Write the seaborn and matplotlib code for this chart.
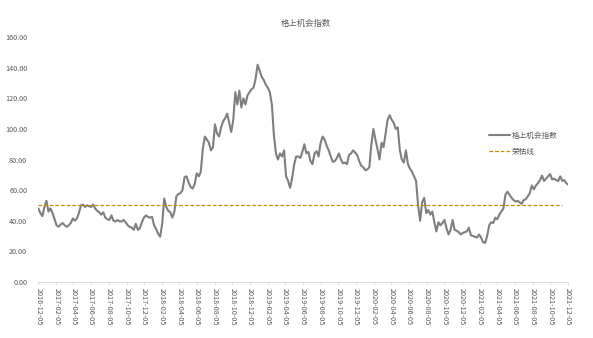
import numpy as np
import pandas as pd
import matplotlib
matplotlib.use("Agg")
import matplotlib.pyplot as plt
from matplotlib.ticker import FuncFormatter
import seaborn as sns

# Weekly index readings, starting 2016-12-05
start_date = "2016-12-05"
index_values = [
    48, 45, 43, 49, 53, 46, 48, 45, 41, 37,
    36, 37.5, 38.5, 37, 36, 37, 38.5, 41.5, 40, 41.5,
    45, 50, 50.5, 49, 50, 49.5, 49, 50.5, 48, 46.5,
    45.5, 44, 45.5, 42, 41, 40.5, 43.5, 40, 39.5, 40.5,
    39.5, 39.5, 40.5, 39, 37, 36, 35.5, 34, 38, 34,
    35, 39, 42, 43.5, 42.5, 42, 42.5, 37, 34.5, 31.5,
    29.5, 38, 54.5, 49, 46.5, 45.5, 42, 46, 56, 57.5,
    58, 60, 68.5, 69, 65, 62, 61, 64, 71, 69,
    72, 87, 95, 93, 91, 86, 88, 103, 97, 95,
    101, 105, 107, 110, 104, 98, 106, 124, 116, 125,
    114, 120, 116, 122, 124, 126, 127, 133, 142, 138,
    134, 132, 129, 127, 124, 116, 96, 84, 80, 84,
    82, 86, 69, 66, 61.5, 68, 77, 82, 82, 81,
    85, 90, 84, 85, 79, 77, 84, 85.5, 82, 91,
    95, 93, 89, 86, 82, 78.5, 79, 81, 84, 80,
    77.5, 78, 77, 83, 84, 86, 84.5, 83, 79, 76,
    75, 73, 73.5, 75, 90, 100, 93, 87, 80, 91,
    88, 97, 106, 109, 106, 104, 100, 101, 86, 80,
    78, 86, 77, 74, 72, 69, 66, 50, 40, 52,
    55, 45, 47, 44, 46, 39, 33, 39, 37, 38.5,
    40.5, 35, 31, 34, 40.5, 34, 33.5, 32.5, 31, 32,
    32.5, 33, 35.5, 30.5, 30, 29.5, 29, 31, 29, 26,
    25.5, 30, 37, 39, 38.5, 42, 41, 44, 46, 48,
    57, 59, 57, 55, 53.5, 52.5, 53, 52, 51, 53.5,
    54, 56, 58, 63, 60.5, 63, 64.5, 66.5, 69.5, 66,
    67.5, 69, 70.5, 67, 67.5, 66.5, 66, 69, 66, 66.5,
    64.5, 63.5,
]
boom_bust_level = 50
boom_bust_weeks = 259

series_name = "格上机会指数"
line_name = "荣枯线"
title_text = "格上机会指数"

dates = pd.date_range(start_date, periods=len(index_values), freq="7D")
df_index = pd.DataFrame({"date": dates, "value": index_values})
df_line = pd.DataFrame({"date": dates[:boom_bust_weeks],
                        "value": [boom_bust_level] * boom_bust_weeks})

sns.set_theme(style="white")
plt.rcParams["font.family"] = ["Noto Sans CJK SC", "DejaVu Sans"]

fig = plt.figure(figsize=(5.93, 3.38), dpi=100)
ax = fig.add_axes([0.0646, 0.166, 0.8934, 0.724])

sns.lineplot(data=df_index, x="date", y="value", ax=ax, color="#7f7f7f",
             linewidth=1.5, label=series_name)
sns.lineplot(data=df_line, x="date", y="value", ax=ax, color="#BF9000",
             linewidth=0.9, linestyle=(0, (3, 1.5)), label=line_name)

tick_dates = pd.date_range("2016-12-05", "2021-12-05", freq=pd.DateOffset(months=2))
ax.set_xticks(tick_dates)
ax.set_xticklabels([d.strftime("%Y-%m-%d") for d in tick_dates],
                   rotation=270, fontsize=5.2, color="#595959")
ax.set_xlim(tick_dates[0], tick_dates[-1])

ax.set_ylim(0, 160)
ax.set_yticks(np.arange(0, 161, 20))
ax.yaxis.set_major_formatter(FuncFormatter(lambda v, p: f"{v:.2f}"))
ax.tick_params(axis="y", labelsize=5.2, labelcolor="#595959", length=0, pad=8)
ax.tick_params(axis="x", length=2.5, width=0.6, color="#d9d9d9", pad=2,
               bottom=True)

for side in ["left", "right", "top"]:
    ax.spines[side].set_visible(False)
ax.spines["bottom"].set_color("#d9d9d9")
ax.spines["bottom"].set_linewidth(0.8)

ax.set_xlabel("")
ax.set_ylabel("")
fig.text(0.515, 0.93, title_text, ha="center", va="center",
         fontsize=6, color="#595959")

leg = ax.legend(loc="upper left", bbox_to_anchor=(0.815, 0.625),
                bbox_transform=fig.transFigure, frameon=False, fontsize=5.5,
                handlelength=2.75, handletextpad=0.3, labelspacing=1.0,
                borderpad=0.2)
for t in leg.get_texts():
    t.set_color("#595959")

fig.savefig("out.png", dpi=100, facecolor="white")
